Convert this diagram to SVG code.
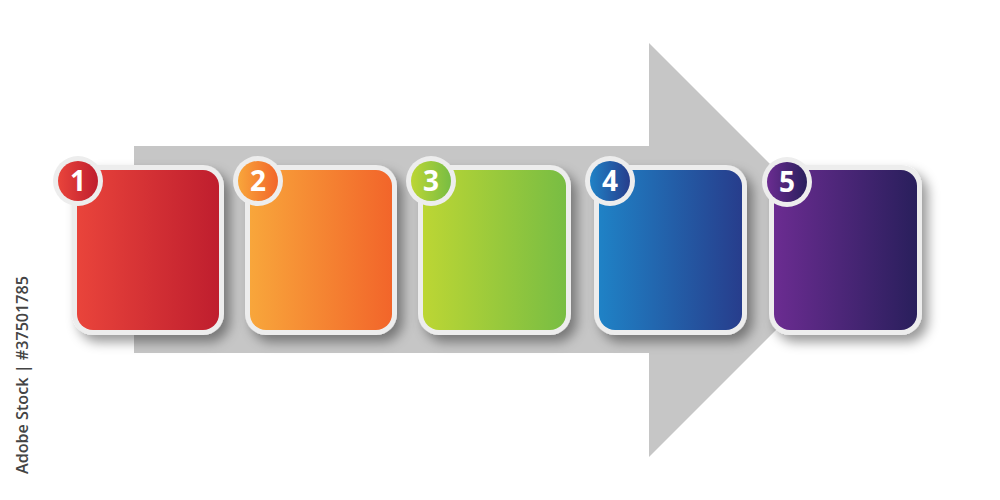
<svg xmlns="http://www.w3.org/2000/svg" width="1000" height="500" viewBox="0 0 1000 500">
  <defs>
    <style>
      .frame { fill: #ededed; }
      .num { font-family: "Open Sans", "Liberation Sans", sans-serif; font-weight: 700; font-size: 28px; fill: #ffffff; text-anchor: middle; }
      .badge { fill: #ededed; }
      .wm { font-family: "Open Sans", "Liberation Sans", sans-serif; font-weight: 600; font-size: 16px; fill: #444444; }
    </style>
    <filter id="shadow" x="-20%" y="-20%" width="150%" height="150%">
      <feDropShadow dx="6" dy="7" stdDeviation="6" flood-color="#000" flood-opacity="0.4"/>
    </filter>
    <linearGradient id="g1" x1="0" y1="0" x2="1" y2="0"><stop offset="0" stop-color="#e9443b"/><stop offset="1" stop-color="#bf1e2e"/></linearGradient>
    <linearGradient id="g2" x1="0" y1="0" x2="1" y2="0"><stop offset="0" stop-color="#f8a63b"/><stop offset="1" stop-color="#f2652a"/></linearGradient>
    <linearGradient id="g3" x1="0" y1="0" x2="1" y2="0"><stop offset="0" stop-color="#bcd634"/><stop offset="1" stop-color="#78bd43"/></linearGradient>
    <linearGradient id="g4" x1="0" y1="0" x2="1" y2="0"><stop offset="0" stop-color="#1f82c6"/><stop offset="1" stop-color="#273d8c"/></linearGradient>
    <linearGradient id="g5" x1="0" y1="0" x2="1" y2="0"><stop offset="0" stop-color="#6b2c91"/><stop offset="1" stop-color="#291f5c"/></linearGradient>
  </defs>
  <rect width="1000" height="500" fill="#ffffff"/>

  <g id="arrow">
    <polygon points="134,146 649,146 649,43 856,250 649,457 649,353 134,353" fill="#c6c6c6"/>
  </g>

  <g id="connectors"></g>

  <g id="step1">
    <rect x="72" y="165" width="152" height="170" rx="21" class="frame" filter="url(#shadow)"/>
    <rect x="77" y="170" width="142" height="160" rx="16" fill="url(#g1)"/>
    <circle cx="78" cy="181" r="25" class="badge"/>
    <circle cx="78" cy="181" r="20" fill="url(#g1)"/>
    <text x="78" y="191" class="num">1</text>
  </g>
  <g id="step2">
    <rect x="245" y="165" width="152" height="170" rx="21" class="frame" filter="url(#shadow)"/>
    <rect x="250" y="170" width="142" height="160" rx="16" fill="url(#g2)"/>
    <circle cx="258" cy="181" r="25" class="badge"/>
    <circle cx="258" cy="181" r="20" fill="url(#g2)"/>
    <text x="258" y="191" class="num">2</text>
  </g>
  <g id="step3">
    <rect x="418" y="165" width="153" height="170" rx="21" class="frame" filter="url(#shadow)"/>
    <rect x="423" y="170" width="143" height="160" rx="16" fill="url(#g3)"/>
    <circle cx="431" cy="181" r="25" class="badge"/>
    <circle cx="431" cy="181" r="20" fill="url(#g3)"/>
    <text x="431" y="191" class="num">3</text>
  </g>
  <g id="step4">
    <rect x="594" y="165" width="153" height="170" rx="21" class="frame" filter="url(#shadow)"/>
    <rect x="599" y="170" width="143" height="160" rx="16" fill="url(#g4)"/>
    <circle cx="610" cy="181" r="25" class="badge"/>
    <circle cx="610" cy="181" r="20" fill="url(#g4)"/>
    <text x="610" y="191" class="num">4</text>
  </g>
  <g id="step5">
    <rect x="769" y="165" width="153" height="170" rx="21" class="frame" filter="url(#shadow)"/>
    <rect x="774" y="170" width="143" height="160" rx="16" fill="url(#g5)"/>
    <circle cx="787" cy="182" r="25" class="badge"/>
    <circle cx="787" cy="182" r="20" fill="url(#g5)"/>
    <text x="787" y="192" class="num">5</text>
  </g>

  <text class="wm" transform="translate(28,474) rotate(-90)" textLength="198" lengthAdjust="spacingAndGlyphs">Adobe Stock | #37501785</text>
</svg>
